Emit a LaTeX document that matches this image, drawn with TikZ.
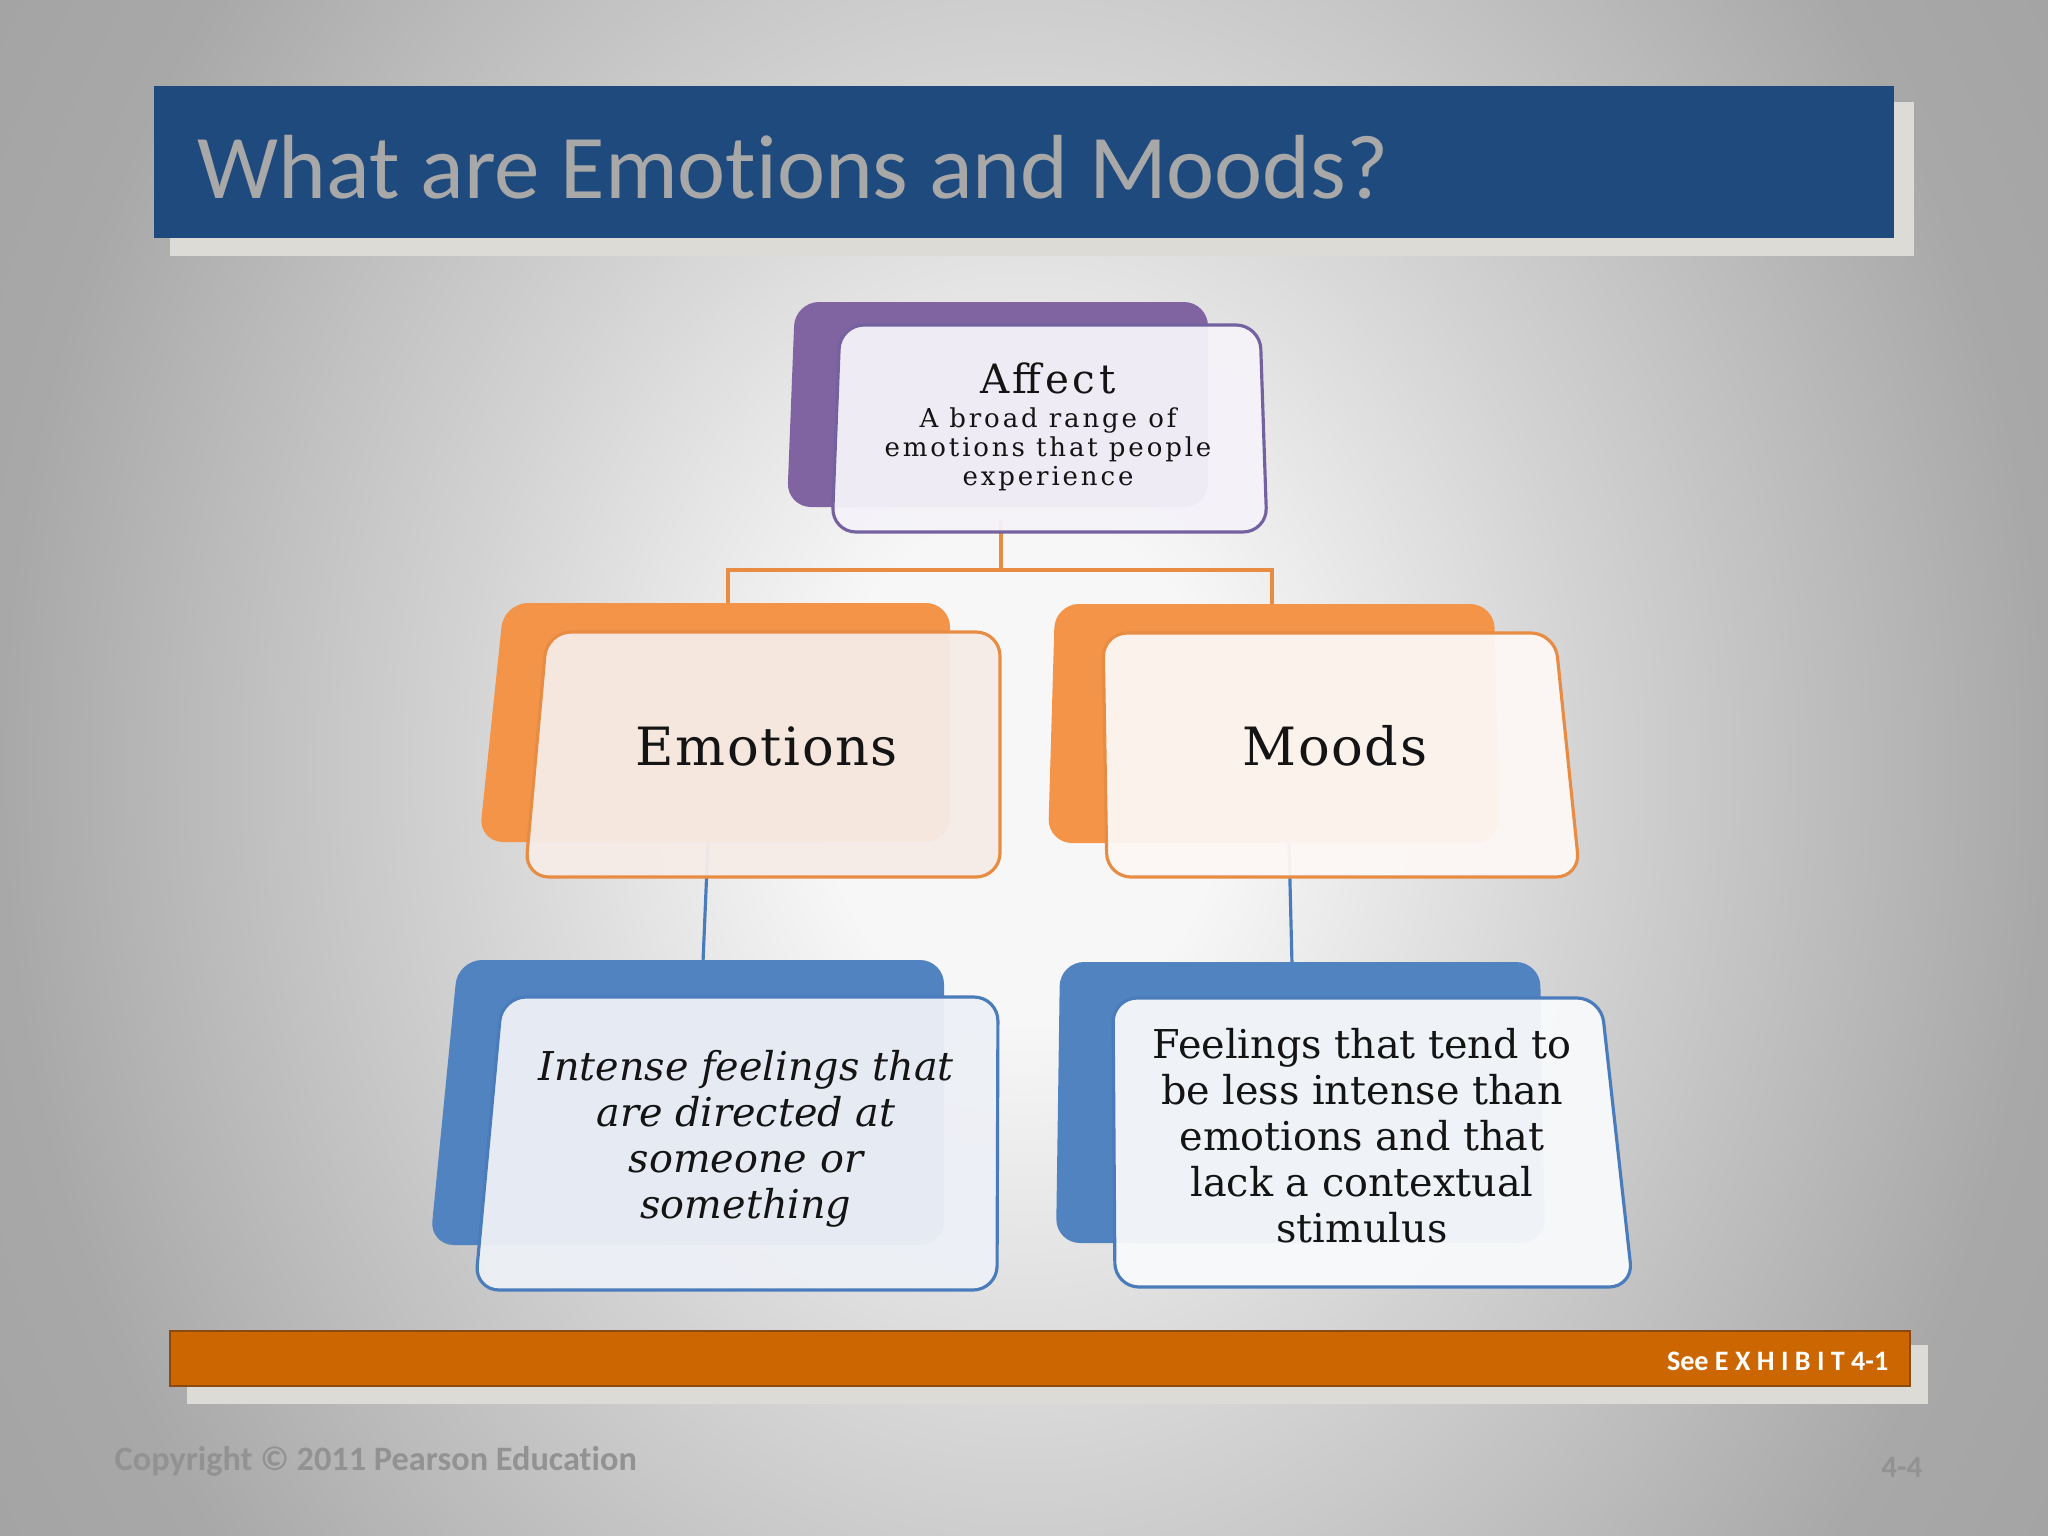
\documentclass[tikz,border=0pt]{standalone}
\usepackage{fontspec}
\setmainfont{DejaVu Serif}
\newfontfamily\carl[Ligatures=NoCommon]{Carlito}
\definecolor{bgA}{HTML}{F7F7F7}
\definecolor{bgB}{HTML}{D2D2D2}
\definecolor{bgC}{HTML}{A8A8A8}
\definecolor{bgD}{HTML}{9A9A9C}
\definecolor{titleblue}{HTML}{1F4A7D}
\definecolor{titlegray}{HTML}{A8A8A8}
\definecolor{shadowc}{HTML}{DCDBD5}
\definecolor{barorange}{HTML}{CC6600}
\definecolor{barline}{HTML}{8A4A10}
\definecolor{purp}{HTML}{8064A2}
\definecolor{purpline}{HTML}{7462A0}
\definecolor{purpfill}{HTML}{F5F3F9}
\definecolor{orng}{HTML}{F39449}
\definecolor{orngline}{HTML}{E88C44}
\definecolor{emofill}{HTML}{F6ECE7}
\definecolor{moodfill}{HTML}{FDF8F5}
\definecolor{blu}{HTML}{5283C1}
\definecolor{bluline}{HTML}{4A7CBB}
\definecolor{intfill}{HTML}{EDF0F6}
\definecolor{feelfill}{HTML}{F8FAFC}
\definecolor{footgray}{HTML}{929292}
\definecolor{txt}{HTML}{141414}
\pgfdeclareradialshading{bgshade}{\pgfpoint{0bp}{0bp}}{color(0bp)=(bgA); color(5bp)=(bgA); color(14bp)=(bgB); color(25bp)=(bgC); color(40bp)=(bgD)}
\tikzset{
  backbox/.style={rounded corners=0.24cm, fill=#1},
  frontbox/.style 2 args={rounded corners=0.24cm, draw=#1, line width=0.9pt, fill=#2, fill opacity=0.95, draw opacity=1},
  orgline/.style={draw=orngline, line width=0.9pt},
  bluconn/.style={draw=bluline, line width=0.9pt},
  boxtext/.style={inner sep=0pt, text=txt, anchor=base}
}
\begin{document}
\begin{tikzpicture}[x=0.01cm, y=-0.01cm]
\useasboundingbox (0,0) rectangle (2048,1536);
\begin{scope}
  \clip (0,0) rectangle (2048,1536);
  \shade[shading=bgshade] (0,-500) rectangle (2048,2036);
\end{scope}

% title bar
\fill[shadowc] (170,102) rectangle (1914,256);
\fill[titleblue] (154,86) rectangle (1894,238);
\node[anchor=base west, inner sep=0pt, text=titlegray, font=\carl\fontsize{25.9pt}{30pt}\selectfont] (title) at (197,198) {What are Emotions and Moods?};

% connector coordinates
\coordinate (affS) at (1001,520);
\coordinate (hub) at (1001,570);
\coordinate (emoN) at (728,606);
\coordinate (moodN) at (1272,606);
\coordinate (emoS) at (708,843);
\coordinate (intN) at (703,962);
\coordinate (moodS) at (1289,843);
\coordinate (feelN) at (1292,964);

\draw[orgline] (affS) -- (hub);
\draw[orgline] (hub) -| (emoN);
\draw[orgline] (hub) -| (moodN);
\draw[bluconn] (emoS) -- (intN);
\draw[bluconn] (moodS) -- (feelN);

% Affect
\path[backbox=purp] (795,302) -- (1208,302) -- (1208,507) -- (787,507) -- cycle;
\path[frontbox={purpline}{purpfill}] (840,325) -- (1260,325) -- (1267,532) -- (832,532) -- cycle;
\node[boxtext, font=\fontsize{11.5pt}{13pt}\selectfont\addfontfeatures{LetterSpace=9}] (affT) at (1048,393) {Affect};
\node[boxtext, font=\fontsize{7.4pt}{8.25pt}\selectfont\addfontfeatures{LetterSpace=11}] (affD) at (1048,427)
  {\begin{tabular}[t]{@{}c@{}}A broad range of\\emotions that people\\experience\end{tabular}};

% Emotions
\path[backbox=orng] (504,603) -- (950,603) -- (950,842) -- (479,842) -- cycle;
\path[frontbox={orngline}{emofill}] (547,632) -- (1000,632) -- (1000,877) -- (525,877) -- cycle;
\node[boxtext, font=\fontsize{15pt}{17pt}\selectfont\addfontfeatures{LetterSpace=3}] (emo) at (767,765) {Emotions};

% Moods
\path[backbox=orng] (1055,604) -- (1494,604) -- (1500,843) -- (1048,843) -- cycle;
\path[frontbox={orngline}{moodfill}] (1103,633) -- (1555,633) -- (1580,877) -- (1107,877) -- cycle;
\node[boxtext, font=\fontsize{15pt}{17pt}\selectfont\addfontfeatures{LetterSpace=3}] (mood) at (1335,765) {Moods};

% Intense
\path[backbox=blu] (458,960) -- (944,960) -- (944,1245) -- (430,1245) -- cycle;
\path[frontbox={bluline}{intfill}] (502,997) -- (998,997) -- (997,1290) -- (475,1290) -- cycle;
\node[boxtext, font=\fontsize{11.3pt}{13.1pt}\selectfont\itshape] (intense) at (746,1080)
  {\begin{tabular}[t]{@{}c@{}}Intense feelings that\\are directed at\\someone or\\something\end{tabular}};

% Feelings
\path[backbox=blu] (1060,962) -- (1540,962) -- (1545,1243) -- (1056,1243) -- cycle;
\path[frontbox={bluline}{feelfill}] (1113,998) -- (1601,998) -- (1633,1287) -- (1115,1287) -- cycle;
\node[boxtext, font=\fontsize{11.3pt}{13.1pt}\selectfont] (feel) at (1362,1058)
  {\begin{tabular}[t]{@{}c@{}}Feelings that tend to\\be less intense than\\emotions and that\\lack a contextual\\stimulus\end{tabular}};

% bottom bar
\fill[shadowc] (187,1345) rectangle (1928,1404);
\filldraw[fill=barorange, draw=barline, line width=0.5pt] (170,1331) rectangle (1910,1386);
\node[anchor=base east, inner sep=0pt, text=white, font=\carl\bfseries\fontsize{8pt}{9pt}\selectfont] (see) at (1889,1370) {See E X H I B I T 4-1};

\node[anchor=base west, inner sep=0pt, text=footgray, font=\carl\bfseries\fontsize{9.75pt}{11pt}\selectfont] (copy) at (114,1470) {Copyright © 2011 Pearson Education};
\node[anchor=base east, inner sep=0pt, text=footgray, font=\carl\bfseries\fontsize{8.8pt}{10pt}\selectfont] (pg) at (1923,1477) {4-4};
\end{tikzpicture}
\end{document}
